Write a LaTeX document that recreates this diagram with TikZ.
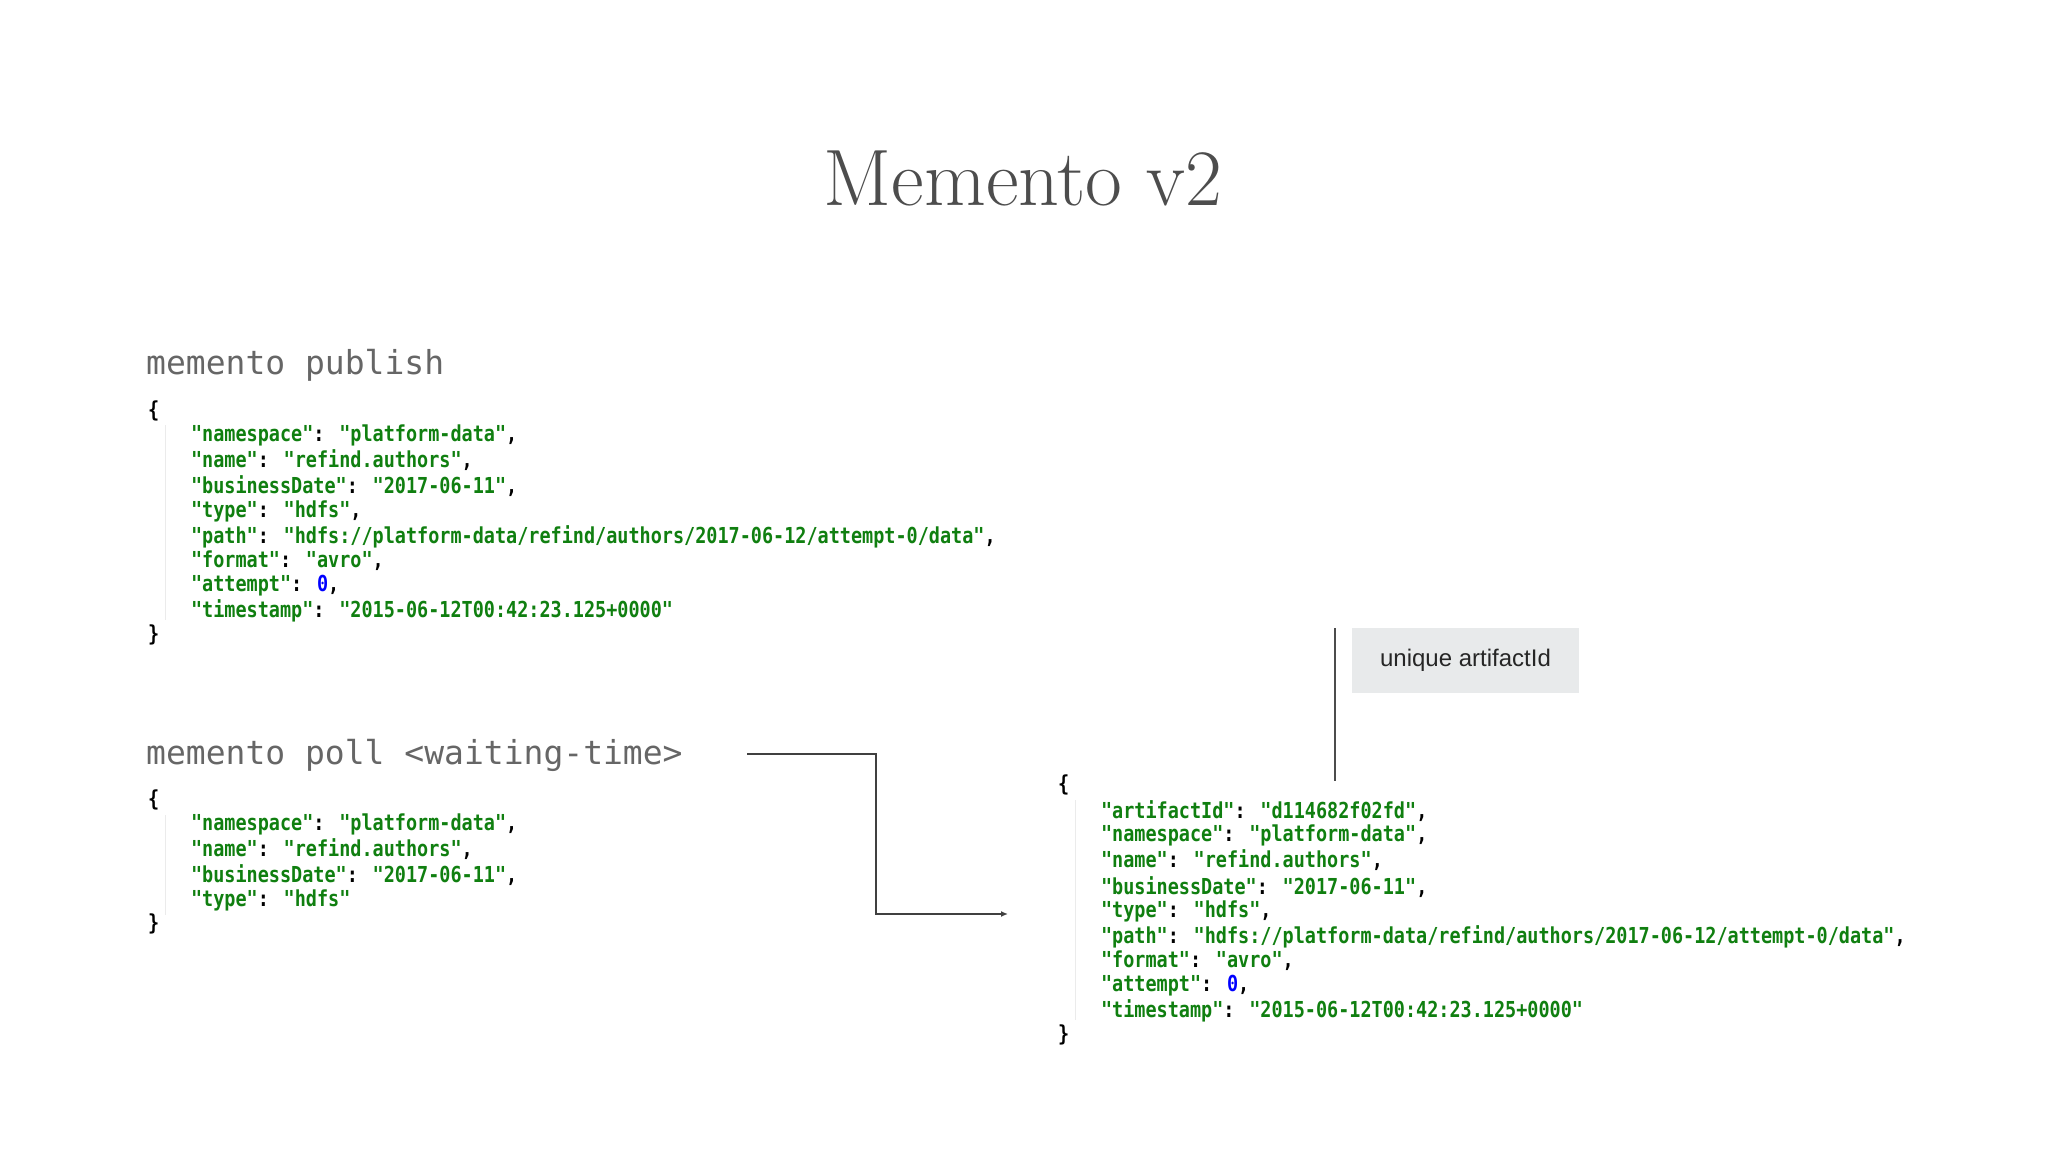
\documentclass[tikz,border=0pt]{standalone}
\usepackage{fontspec}
\usetikzlibrary{arrows.meta}
\newfontfamily\monof{DejaVu Sans Mono}
\newfontfamily\sansf{Liberation Sans}
\definecolor{jgreen}{HTML}{107F10}
\definecolor{jblue}{HTML}{0000FF}
\definecolor{titlegray}{HTML}{4D4D4D}
\definecolor{labgray}{HTML}{666666}
\definecolor{boxgray}{HTML}{E8EAEB}
\newcommand\kq[1]{\textcolor{jgreen}{"#1"}}
\newcommand\myind{\hspace*{51pt}}
\newcommand\jsonln[1]{\strut\myind#1\\}
\begin{document}
\begin{tikzpicture}[x=1pt,y=-1pt,
  code/.style={anchor=north west,inner sep=0pt,align=left,xscale=0.84,transform shape,
    font=\monof\bfseries\fontsize{22}{23.9}\selectfont},
  lab/.style={anchor=base west,inner sep=0pt,text=labgray,font=\monof\fontsize{33}{36}\selectfont},
  guide/.style={draw=black!8,line width=1pt},
  conn/.style={draw=black!75,line width=1.5pt}]
\useasboundingbox (0,0) rectangle (2048,1152);
\node[anchor=base,inner sep=0pt,text=titlegray,font=\fontsize{80}{90}\selectfont] (title) at (1023,205) {Memento v2};

\node[lab] (pub) at (146,374) {memento publish};
\draw[guide] (165,425) -- (165,620);
\node[code] (pubjson) at (148,401) {\strut\{\\
\jsonln{\kq{namespace}: \kq{platform-data},}
\jsonln{\kq{name}: \kq{refind.authors},}
\jsonln{\kq{businessDate}: \kq{2017-06-11},}
\jsonln{\kq{type}: \kq{hdfs},}
\jsonln{\kq{path}: \kq{hdfs://platform-data/refind/authors/2017-06-12/attempt-0/data},}
\jsonln{\kq{format}: \kq{avro},}
\jsonln{\kq{attempt}: \textcolor{jblue}{0},}
\jsonln{\kq{timestamp}: \kq{2015-06-12T00:42:23.125+0000}}
\strut\}};

\node[lab] (poll) at (146,764) {memento poll <waiting-time>};
\draw[guide] (165,815) -- (165,915);
\node[code] (polljson) at (148,790) {\strut\{\\
\jsonln{\kq{namespace}: \kq{platform-data},}
\jsonln{\kq{name}: \kq{refind.authors},}
\jsonln{\kq{businessDate}: \kq{2017-06-11},}
\jsonln{\kq{type}: \kq{hdfs}}
\strut\}};

\draw[guide] (1075,800) -- (1075,1020);
\node[code] (res) at (1058,775) {\strut\{\\
\jsonln{\kq{artifactId}: \kq{d114682f02fd},}
\jsonln{\kq{namespace}: \kq{platform-data},}
\jsonln{\kq{name}: \kq{refind.authors},}
\jsonln{\kq{businessDate}: \kq{2017-06-11},}
\jsonln{\kq{type}: \kq{hdfs},}
\jsonln{\kq{path}: \kq{hdfs://platform-data/refind/authors/2017-06-12/attempt-0/data},}
\jsonln{\kq{format}: \kq{avro},}
\jsonln{\kq{attempt}: \textcolor{jblue}{0},}
\jsonln{\kq{timestamp}: \kq{2015-06-12T00:42:23.125+0000}}
\strut\}};

\coordinate (cs) at (747,754);
\coordinate (ce) at (1008,914);
\draw[conn,-{Latex[length=7pt,width=6pt]}] (cs) -- (876,754) -- (876,914) -- (ce);

\node[fill=boxgray,minimum width=227pt,minimum height=65pt,inner sep=0pt,
  font=\sansf\fontsize{24}{28}\selectfont,text=black!85] (uid) at (1465.5,660.5) {unique artifactId};
\coordinate (vt) at (1335,628);
\coordinate (vb) at (1335,781);
\draw[draw=black!70,line width=2.5pt] (vt) -- (vb);
\end{tikzpicture}
\end{document}
